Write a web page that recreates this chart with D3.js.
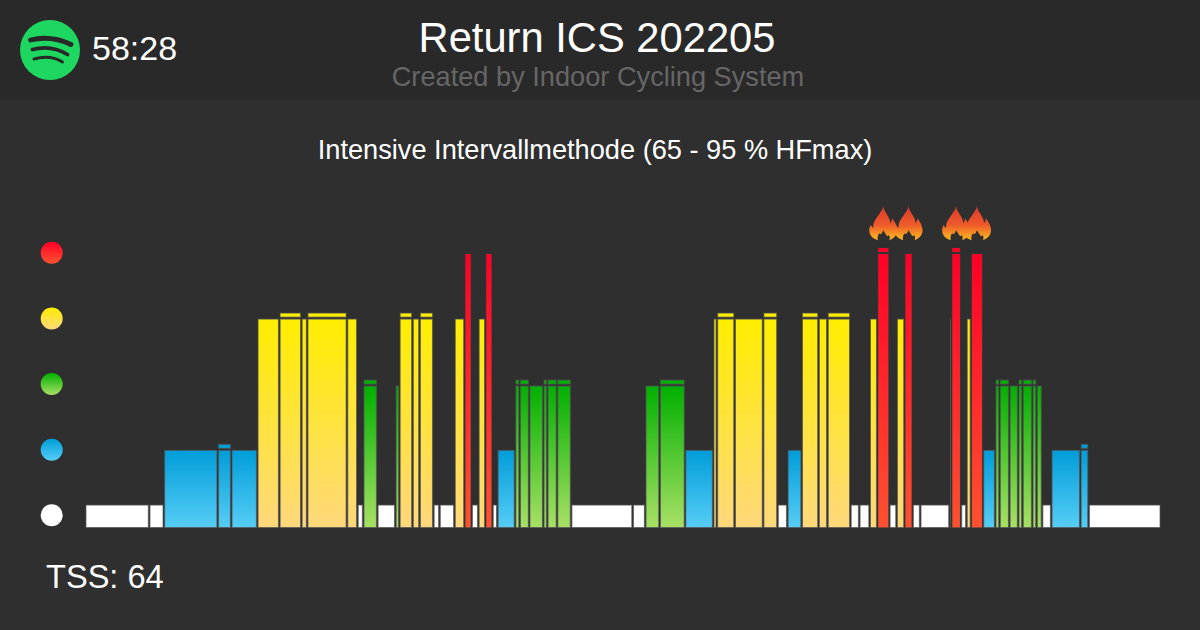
<!DOCTYPE html>
<html>
<head>
<meta charset="utf-8">
<script src="https://cdn.jsdelivr.net/npm/d3@7"></script>
<style>
  html, body { margin: 0; padding: 0; background: #2f2f2f; overflow: hidden; }
  text { font-family: "Liberation Sans", Arial, sans-serif; }
</style>
</head>
<body>
<svg id="chart" width="1200" height="630"></svg>
<script>
const titleText = "Return ICS 202205";
const subtitleText = "Created by Indoor Cycling System";
const durationText = "58:28";
const methodText = "Intensive Intervallmethode (65 - 95 % HFmax)";
const tssText = "TSS: 64";

// zone 0 white, 1 blue, 2 green, 3 yellow, 4 red
const zoneLevels = [8.2, 28.2, 51.7, 76.2, 100];
const zoneTop = ["#ffffff", "#009dd9", "#00b000", "#ffee00", "#ff0026"];
const zoneBottom = ["#ffffff", "#56cdf6", "#a8e065", "#ffd87c", "#ff5230"];

// interval lengths in seconds
const segmentSeconds = [
  209, 48, 176, 44, 85, 72, 72, 19, 130, 34, 19, 46, 59, 13, 43, 23, 45, 20, 49, 33,
  23, 22, 23, 23, 16, 58, 15, 31, 46, 13, 32, 46, 201, 41, 47, 83, 92, 12, 58, 93,
  47, 32, 47, 55, 29, 75, 29, 34, 25, 39, 24, 26, 26, 25, 96, 6, 31, 18, 15, 39,
  40, 14, 32, 29, 14, 32, 14, 18, 30, 95, 27, 236
];
const segmentZones = [
  0, 0, 1, 1, 1, 3, 3, 3, 3, 3, 0, 2, 0, 2, 3, 3, 3, 0, 0, 3,
  4, 0, 3, 4, 0, 1, 2, 2, 2, 2, 2, 2, 0, 0, 2, 2, 1, 3, 3, 3,
  3, 0, 1, 3, 3, 3, 0, 0, 3, 4, 0, 3, 4, 0, 0, 3, 4, 0, 3, 4,
  1, 2, 2, 2, 2, 2, 2, 2, 0, 1, 1, 0
];
// segments with the small marker on top
const cappedSegments = [3, 6, 8, 11, 14, 16, 26, 27, 29, 30, 31, 35, 38, 40, 43, 45, 49, 56, 61, 62, 64, 65, 66, 70];
// segments with a flame above them
const flameSegments = [49, 52, 56, 59];

const svg = d3.select("#chart");
const width = 1200, height = 630;
const headerHeight = 100;
const gap = 1.7;

const starts = [0, ...d3.cumsum(segmentSeconds)];
const segments = segmentSeconds.map((d, i) => ({
  index: i,
  start: starts[i],
  end: starts[i + 1],
  zone: segmentZones[i],
}));

const xScale = d3.scaleLinear().domain([0, starts[starts.length - 1]]).range([86, 1161.7]);
const yScale = d3.scaleLinear().domain([0, 100]).range([527.5, 254]);
const legendScale = d3.scalePoint().domain([4, 3, 2, 1, 0]).range([252.8, 515.3]);

// gradients per zone
const defs = svg.append("defs");
const grads = defs.selectAll("linearGradient.zone")
  .data(zoneLevels)
  .join("linearGradient")
  .attr("class", "zone")
  .attr("id", (d, i) => `zone-${i}`)
  .attr("x1", 0).attr("y1", 0).attr("x2", 0).attr("y2", 1);
grads.append("stop").attr("offset", "0%").attr("stop-color", (d, i) => zoneTop[i]);
grads.append("stop").attr("offset", "100%").attr("stop-color", (d, i) => zoneBottom[i]);

const flameGrad = defs.append("linearGradient")
  .attr("id", "flame").attr("x1", 0).attr("y1", 0).attr("x2", 0).attr("y2", 1);
flameGrad.append("stop").attr("offset", "0%").attr("stop-color", "#dd3a2c");
flameGrad.append("stop").attr("offset", "55%").attr("stop-color", "#ee5a2a");
flameGrad.append("stop").attr("offset", "90%").attr("stop-color", "#f8a820");

// background + header
svg.append("rect").attr("width", width).attr("height", height).attr("fill", "#2f2f2f");
svg.append("rect").attr("width", width).attr("height", headerHeight).attr("fill", "#292929");

// spotify logo
const logo = svg.append("g").attr("transform", "translate(50,50)");
logo.append("circle").attr("r", 30).attr("fill", "#1ed760");
logo.selectAll("path")
  .data([
    ["M-19.5,-10 Q1,-15 21,-5.5", 4.8],
    ["M-17.5,-0.5 Q1,-5.5 17.5,4.5", 3.8],
    ["M-16,9 Q0,4.5 12.5,12", 3],
  ])
  .join("path")
  .attr("d", (d) => d[0])
  .attr("stroke-width", (d) => d[1])
  .attr("fill", "none")
  .attr("stroke", "#282828")
  .attr("stroke-linecap", "round");

svg.append("text").attr("x", 92).attr("y", 59.5).attr("font-size", 34).attr("fill", "#fff").text(durationText);
svg.append("text").attr("x", 597).attr("y", 52).attr("text-anchor", "middle").attr("font-size", 41.7).attr("fill", "#fff").text(titleText);
svg.append("text").attr("x", 598).attr("y", 86).attr("text-anchor", "middle").attr("font-size", 27.2).attr("fill", "#666").text(subtitleText);
svg.append("text").attr("x", 595).attr("y", 159).attr("text-anchor", "middle").attr("font-size", 27.2).attr("fill", "#fff").text(methodText);
svg.append("text").attr("x", 46).attr("y", 588).attr("font-size", 32.6).attr("fill", "#fff").text(tssText);

// legend dots
svg.append("g").selectAll("circle")
  .data(legendScale.domain())
  .join("circle")
  .attr("cx", 51.7)
  .attr("cy", (d) => legendScale(d))
  .attr("r", 11)
  .attr("fill", (d) => `url(#zone-${d})`);

// bars
const barStroke = (d) => d.zone === 4 ? "rgba(85,85,85,0.25)" : "rgba(85,85,85,0.7)";
const chart = svg.append("g");
chart.selectAll(".bar")
  .data(segments)
  .join("rect")
  .attr("class", "bar")
  .attr("x", (d) => xScale(d.start))
  .attr("y", (d) => yScale(zoneLevels[d.zone]))
  .attr("width", (d) => xScale(d.end) - xScale(d.start) - gap)
  .attr("height", (d) => yScale(0) - yScale(zoneLevels[d.zone]))
  .attr("fill", (d) => `url(#zone-${d.zone})`)
  .attr("stroke", barStroke)
  .attr("stroke-width", 1);

// small marker above the bar
chart.selectAll(".cap")
  .data(segments.filter((d) => cappedSegments.includes(d.index)))
  .join("rect")
  .attr("class", "cap")
  .attr("x", (d) => xScale(d.start))
  .attr("y", (d) => yScale(zoneLevels[d.zone]) - 6)
  .attr("width", (d) => xScale(d.end) - xScale(d.start) - gap)
  .attr("height", 4)
  .attr("fill", (d) => zoneTop[d.zone])
  .attr("stroke", barStroke)
  .attr("stroke-width", 1);

// flames
const flamePath = "M0,-17 C1,-10 7,-7 7,0 C8,-1 8.5,-2 8.8,-5 C12,-1 14.5,4 14,8 C13.5,12 10.5,15.5 6,17 C7,14 6.5,13 5.5,12 L4,13 L2.5,11 L0,7 L-1.5,10 L-3,11 L-4,10 C-5.5,12 -6,14 -5.5,17 C-10,15.5 -14,12.5 -14,7 C-14.2,5 -13.2,3.5 -12.5,1.5 C-11.5,3.5 -11,4.5 -10,4.5 C-10.5,-2 -6.5,-5 -4.5,-8.5 C-2.5,-11.5 -0.5,-14 0,-17 Z";
chart.selectAll(".flame")
  .data(segments.filter((d) => flameSegments.includes(d.index)))
  .join("path")
  .attr("class", "flame")
  .attr("d", flamePath)
  .attr("fill", "url(#flame)")
  .attr("transform", (d) => `translate(${(xScale(d.start) + xScale(d.end) - gap) / 2},223.3)`);
</script>
</body>
</html>
